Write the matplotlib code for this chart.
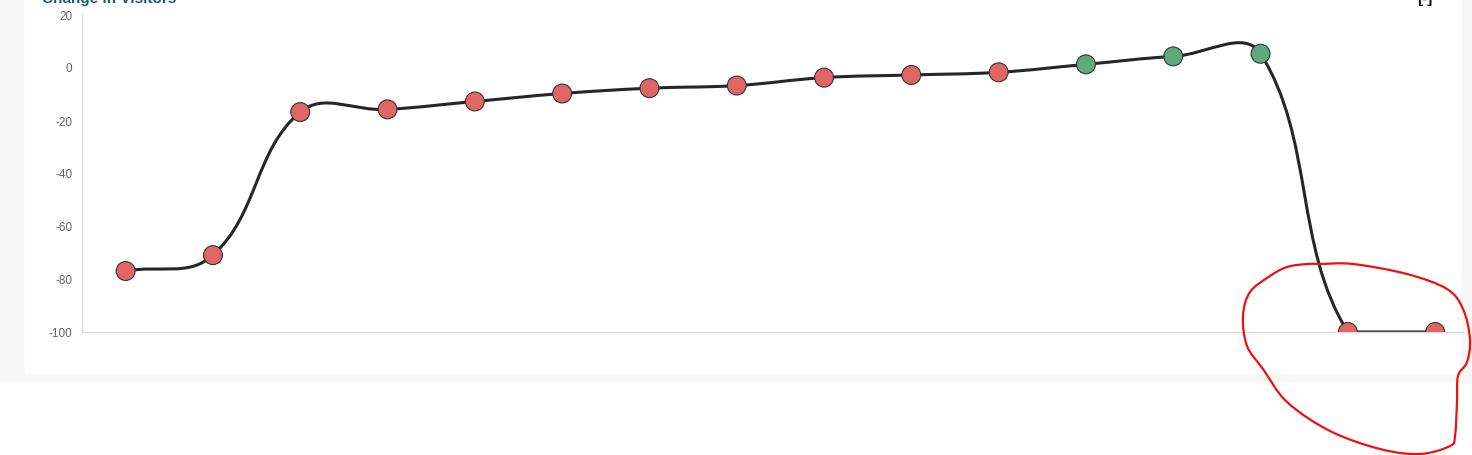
import numpy as np
import matplotlib
matplotlib.use("Agg")
import matplotlib.pyplot as plt
from matplotlib.path import Path
from matplotlib.patches import PathPatch, Rectangle

# ---- data ----
values = [-77, -71, -17, -16, -13, -10, -8, -7, -4, -3, -2, 1, 4, 5, -100, -100]
y_ticks = [20, 0, -20, -40, -60, -80, -100]
title_text = "Change in Visitors"
neg_color = "#e06666"
pos_color = "#5fa97c"

W, H, DPI = 1472, 456, 100
fig = plt.figure(figsize=(W / DPI, H / DPI), dpi=DPI)
fig.patch.set_facecolor("white")

# page background panels
fig.patches.append(Rectangle((0, 1 - 383 / H), 1, 383 / H, transform=fig.transFigure,
                             facecolor="#f7f7f7", edgecolor="none", zorder=-10))
fig.patches.append(Rectangle((25 / W, 1 - 375 / H), (1462 - 25) / W, 375 / H,
                             transform=fig.transFigure, facecolor="white",
                             edgecolor="none", zorder=-9))

ax_l, ax_r, ax_t, ax_b = 82, 1463, 15, 333
ax = fig.add_axes([ax_l / W, 1 - ax_b / H, (ax_r - ax_l) / W, (ax_b - ax_t) / H])
ax.set_facecolor("none")

x = np.arange(len(values))
ymin, ymax = -100, 20
ax.set_ylim(ymin, ymax)
xspan_px = 87.3
ax.set_xlim(-0.5, -0.5 + (ax_r - ax_l) / xspan_px)

# Chart.js-like spline (tension 0.4) computed in pixel-proportional space
ypx = (ax_b - ax_t) / (ymax - ymin)
P = np.column_stack([x * xspan_px, np.array(values, float) * ypx])
t = 0.4
n = len(P)
prev_c = np.zeros_like(P)
next_c = np.zeros_like(P)
for i in range(n):
    prev = P[i - 1] if i > 0 else P[i]
    cur = P[i]
    nxt = P[i + 1] if i < n - 1 else P[i]
    d01 = np.hypot(*(cur - prev))
    d12 = np.hypot(*(nxt - cur))
    tot = d01 + d12
    s01 = d01 / tot if tot else 0
    s12 = d12 / tot if tot else 0
    prev_c[i] = cur - t * s01 * (nxt - prev)
    next_c[i] = cur + t * s12 * (nxt - prev)
# cap control points to chart area
for c in (prev_c, next_c):
    c[:, 1] = np.clip(c[:, 1], ymin * ypx, ymax * ypx)

def to_data(p):
    return (p[0] / xspan_px, p[1] / ypx)

verts = [to_data(P[0])]
codes = [Path.MOVETO]
for i in range(n - 1):
    verts += [to_data(next_c[i]), to_data(prev_c[i + 1]), to_data(P[i + 1])]
    codes += [Path.CURVE4] * 3
line = PathPatch(Path(verts, codes), facecolor="none", edgecolor="#262626",
                 linewidth=2.2, zorder=2, capstyle="round", joinstyle="round")
ax.add_patch(line)

colors = [pos_color if v > 0 else neg_color for v in values]
ax.scatter(x, values, s=13.6 ** 2, c=colors, edgecolors="#333333", linewidths=0.8,
           zorder=3, clip_on=True)

# axes styling
for s in ("top", "right"):
    ax.spines[s].set_visible(False)
for s in ("left", "bottom"):
    ax.spines[s].set_color("#dddddd")
    ax.spines[s].set_linewidth(1.0)
ax.set_yticks(y_ticks)
ax.set_yticklabels([str(v) for v in y_ticks])
ax.set_xticks([])
ax.tick_params(axis="y", length=0, pad=7, labelsize=8.5, labelcolor="#666666")
for lab in ax.get_yticklabels():
    lab.set_family(["Liberation Sans", "DejaVu Sans"])

# cropped title and control at top (the reference screenshot cuts them off)
fig.text(42 / W, 1 - 3 / H, title_text, ha="left", va="baseline", fontsize=11,
         fontweight="bold", color="#1f5a6e", family=["Liberation Sans", "DejaVu Sans"])
fig.text(1425 / W, 1 - 3 / H, "[-]", ha="center", va="baseline", fontsize=11,
         fontweight="bold", color="#111111", family=["Liberation Sans", "DejaVu Sans"])

# red freehand annotation circle (pixel coordinates of the drawn loop)
loop_px = [(1320, 265), (1353, 265), (1407, 275), (1447, 290), (1463, 310),
           (1470, 340), (1467, 363), (1458, 377), (1457, 403), (1455, 437),
           (1450, 447), (1420, 455), (1380, 450), (1330, 432), (1287, 403),
           (1263, 370), (1247, 347), (1243, 317), (1250, 293), (1270, 277),
           (1287, 268), (1307, 265)]
L = np.array([(px / W, 1 - py / H) for px, py in loop_px])
m = len(L)
lv, lc = [L[0]], [Path.MOVETO]
for i in range(m):
    p0, p1, p2, p3 = L[i - 1], L[i], L[(i + 1) % m], L[(i + 2) % m]
    lv += [p1 + (p2 - p0) / 6, p2 - (p3 - p1) / 6, p2]
    lc += [Path.CURVE4] * 3
fig.patches.append(PathPatch(Path(lv, lc), transform=fig.transFigure,
                             facecolor="none", edgecolor="#ee1111", linewidth=1.6,
                             zorder=10))

fig.savefig("out.png", dpi=DPI)
